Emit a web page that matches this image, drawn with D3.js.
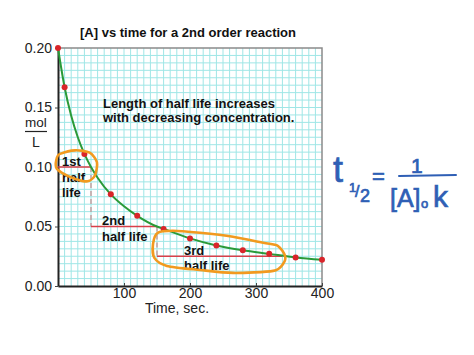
<!DOCTYPE html>
<html>
<head>
<meta charset="utf-8">
<script src="https://cdn.jsdelivr.net/npm/d3@7"></script>
<style>
  html, body { margin: 0; padding: 0; background: #fff; }
  svg { display: block; }
  text { font-family: "Liberation Sans", Arial, Helvetica, sans-serif; }
</style>
</head>
<body>
<script>
// ---- data ----
const times = [0, 10, 40, 80, 120, 160, 200, 240, 280, 320, 360, 400];
const concentrations = [0.200, 0.167, 0.111, 0.077, 0.059, 0.048, 0.040, 0.034, 0.030, 0.027, 0.024, 0.022];
const curveTimes = [0, 10, 20, 30, 40, 50, 60, 80, 100, 120, 150, 160, 200, 240, 280, 320, 360, 400];
const curveValues = [0.200, 0.167, 0.143, 0.125, 0.111, 0.100, 0.091, 0.077, 0.067, 0.059, 0.050, 0.048, 0.040, 0.034, 0.030, 0.027, 0.024, 0.022];
const halfLifeStart = [0, 50, 150];
const halfLifeEnd = [50, 150, 340];
const halfLifeLevel = [0.10, 0.05, 0.025];
const yTickValues = [0, 0.05, 0.10, 0.15, 0.20];
const xTickValues = [100, 200, 300, 400];
// hand-drawn orange loops (in data units: time, concentration)
const loop1Times = [3, 26, 48, 59, 56, 45, 26, 6, -3, -1.5];
const loop1Values = [0.111, 0.114, 0.112, 0.104, 0.093, 0.088, 0.090, 0.095, 0.100, 0.108];
const loop3Times = [151, 174, 215, 265, 311, 333, 344, 341, 326, 265, 215, 165, 146, 144];
const loop3Values = [0.0447, 0.0464, 0.0447, 0.0414, 0.0363, 0.0338, 0.0253, 0.0186, 0.0127, 0.011, 0.0135, 0.0169, 0.0236, 0.0354];

const W = 474, H = 355;
const svg = d3.select("body").append("svg").attr("width", W).attr("height", H);
svg.append("rect").attr("width", W).attr("height", H).attr("fill", "#fff");

const x = d3.scaleLinear().domain([0, 400]).range([58, 322]);
const y = d3.scaleLinear().domain([0, 0.2]).range([286, 48]);

// grid
const grid = svg.append("g").attr("stroke", "#9fe6e6").attr("stroke-width", 1);
grid.selectAll("line.v").data(d3.range(10, 400, 10)).join("line")
  .attr("x1", d => x(d)).attr("x2", d => x(d))
  .attr("y1", y(0)).attr("y2", y(0.2));
grid.selectAll("line.h").data(d3.range(1, 32).map(i => i * 0.00625)).join("line")
  .attr("x1", x(0)).attr("x2", x(400))
  .attr("y1", d => y(d)).attr("y2", d => y(d));

// top/right border
svg.append("path")
  .attr("d", `M${x(0)},${y(0.2)}H${x(400)}V${y(0)}`)
  .attr("fill", "none").attr("stroke", "#8a8a8a").attr("stroke-width", 1.5);

// axes
const yAxis = d3.axisLeft(y).tickValues(yTickValues).tickFormat(d3.format(".2f"))
  .tickSize(3).tickSizeOuter(0).tickPadding(3);
const gy = svg.append("g").attr("transform", `translate(${x(0)},0)`).call(yAxis);
gy.select(".domain").attr("stroke", "#222").attr("stroke-width", 2);
gy.selectAll(".tick line").attr("stroke", "#444");
gy.selectAll("text").attr("font-size", 14).attr("fill", "#222");

const xAxis = d3.axisBottom(x).tickValues(xTickValues).tickSizeInner(-3).tickSizeOuter(0).tickPadding(2);
const gx = svg.append("g").attr("transform", `translate(0,${y(0)})`).call(xAxis);
gx.select(".domain").attr("stroke", "#222").attr("stroke-width", 2);
gx.selectAll(".tick line").attr("stroke", "#444");
gx.selectAll("text").attr("font-size", 14).attr("fill", "#222");

// axis labels
svg.append("text").attr("x", 177).attr("y", 313).attr("text-anchor", "middle")
  .attr("font-size", 14).attr("fill", "#222").text("Time, sec.");
svg.append("text").attr("x", 36).attr("y", 127).attr("text-anchor", "middle")
  .attr("font-size", 13.5).attr("fill", "#222").text("mol");
svg.append("line").attr("x1", 25).attr("x2", 47).attr("y1", 131.5).attr("y2", 131.5)
  .attr("stroke", "#222").attr("stroke-width", 1.2);
svg.append("text").attr("x", 36).attr("y", 147).attr("text-anchor", "middle")
  .attr("font-size", 14).attr("fill", "#222").text("L");

// title
svg.append("text").attr("x", 188).attr("y", 37).attr("text-anchor", "middle")
  .attr("font-size", 13).attr("font-weight", "bold").attr("fill", "#111")
  .text("[A] vs time for a 2nd order reaction");

// note
const note = svg.append("text").attr("font-size", 13).attr("font-weight", "bold").attr("fill", "#111");
note.append("tspan").attr("x", 103).attr("y", 108).text("Length of half life increases");
note.append("tspan").attr("x", 103).attr("y", 122).text("with decreasing concentration.");

// half-life dashed verticals
const hl = d3.range(halfLifeStart.length);
svg.selectAll("line.dash").data(hl.slice(0, 2)).join("line")
  .attr("x1", i => x(halfLifeEnd[i])).attr("x2", i => x(halfLifeEnd[i]))
  .attr("y1", i => y(halfLifeLevel[i])).attr("y2", i => y(halfLifeLevel[i + 1]))
  .attr("stroke", "#c39494").attr("stroke-width", 1.3).attr("stroke-dasharray", "5,3");

// half-life horizontal lines
svg.selectAll("line.hl").data(hl).join("line")
  .attr("x1", i => x(halfLifeStart[i])).attr("x2", i => x(halfLifeEnd[i]))
  .attr("y1", i => y(halfLifeLevel[i])).attr("y2", i => y(halfLifeLevel[i]))
  .attr("stroke", "#d8404a").attr("stroke-width", 1.6);

// curve
const line = d3.line().x(d => x(d[0])).y(d => y(d[1])).curve(d3.curveMonotoneX);
svg.append("path").datum(curveTimes.map((t, i) => [t, curveValues[i]]))
  .attr("d", line).attr("fill", "none").attr("stroke", "#2a9a38").attr("stroke-width", 2);

// points
svg.selectAll("circle.pt").data(times.map((t, i) => [t, concentrations[i]])).join("circle")
  .attr("cx", d => x(d[0])).attr("cy", d => y(d[1])).attr("r", 3)
  .attr("fill", "#d9252a");

// half-life labels
const lab = (x0, ys, lines) => {
  const t = svg.append("text").attr("font-size", 13).attr("font-weight", "bold").attr("fill", "#111");
  lines.forEach((s, i) => t.append("tspan").attr("x", x0).attr("y", ys[i]).text(s));
};
lab(62, [166, 181.5, 197], ["1st", "half", "life"]);
lab(102, [225, 241], ["2nd", "half life"]);
lab(184, [255, 270], ["3rd", "half life"]);

// orange hand-drawn loops
const loopLine = d3.line().x(d => x(d[0])).y(d => y(d[1])).curve(d3.curveCardinalClosed.tension(0.2));
[[loop1Times, loop1Values], [loop3Times, loop3Values]].forEach(([ts, vs]) => {
  svg.append("path").datum(ts.map((t, i) => [t, vs[i]]))
    .attr("d", loopLine).attr("fill", "none").attr("stroke", "#f29a1f")
    .attr("stroke-width", 2.6).attr("stroke-linejoin", "round");
});

// handwritten formula
const blue = "#2f5fb5";
const hw = svg.append("g").attr("fill", blue).attr("stroke", blue).attr("stroke-width", 0.7)
  .style("font-family", "'Liberation Sans', sans-serif");
hw.append("text").attr("x", 333).attr("y", 182).attr("font-size", 36).text("t");
hw.append("text").attr("x", 349).attr("y", 192).attr("font-size", 13).text("1");
hw.append("text").attr("x", 355).attr("y", 197).attr("font-size", 16).text("/");
hw.append("text").attr("x", 360).attr("y", 202).attr("font-size", 18).text("2");
hw.append("text").attr("x", 372).attr("y", 184).attr("font-size", 22).text("=");
hw.append("text").attr("x", 411).attr("y", 173).attr("font-size", 21).text("1");
svg.append("line").attr("x1", 399).attr("x2", 456).attr("y1", 176).attr("y2", 175)
  .attr("stroke", blue).attr("stroke-width", 2).attr("stroke-linecap", "round");
hw.append("text").attr("x", 390).attr("y", 207).attr("font-size", 25).text("[A]");
hw.append("text").attr("x", 421).attr("y", 208).attr("font-size", 13).text("o");
hw.append("text").attr("x", 433).attr("y", 207).attr("font-size", 30).text("k");
</script>
</body>
</html>
